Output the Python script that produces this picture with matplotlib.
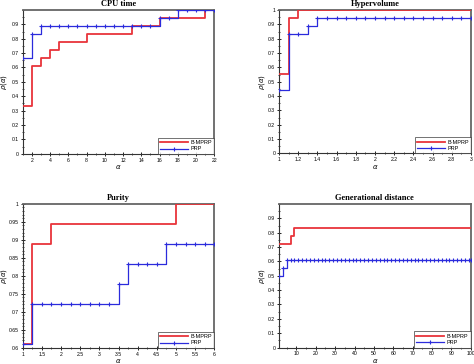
import numpy as np
import matplotlib
matplotlib.use("Agg")
import matplotlib.pyplot as plt
from matplotlib.ticker import MultipleLocator, FuncFormatter

# ---- data (breakpoints where each step starts, and the level from there) ----
cpu_grid = np.arange(1, 23, 1.0)
cpu_bmprp_x = [1, 2, 3, 4, 5, 8, 13, 16, 21]
cpu_bmprp_y = [0.333, 0.611, 0.667, 0.722, 0.778, 0.833, 0.889, 0.944, 1.0]
cpu_prp_x = [1, 2, 3, 16, 18]
cpu_prp_y = [0.667, 0.833, 0.889, 0.944, 1.0]

hv_grid = np.round(np.arange(1.0, 3.0001, 0.1), 2)
hv_bmprp_x = [1.0, 1.1, 1.2]
hv_bmprp_y = [0.556, 0.944, 1.0]
hv_prp_x = [1.0, 1.1, 1.3, 1.4]
hv_prp_y = [0.444, 0.833, 0.889, 0.944]

pur_grid = np.arange(1.0, 6.0001, 0.25)
pur_bmprp_x = [1.0, 1.25, 1.75, 5.0]
pur_bmprp_y = [0.611, 0.889, 0.944, 1.0]
pur_prp_x = [1.0, 1.25, 3.5, 3.75, 4.75]
pur_prp_y = [0.611, 0.722, 0.778, 0.833, 0.889]

gd_grid = np.append(np.arange(1, 100, 2.0), 100)
gd_bmprp_x = [1, 7, 9]
gd_bmprp_y = [0.722, 0.778, 0.833]
gd_prp_x = [1, 3, 5]
gd_prp_y = [0.5, 0.556, 0.611]

titles = ["CPU time", "Hypervolume", "Purity", "Generational distance"]
series_names = ["B-MPRP", "PRP"]

RED = "#e8343a"
BLUE = "#2b2bdc"


def levels(grid, bx, by):
    idx = np.searchsorted(np.array(bx, dtype=float) - 1e-6, grid, side="right") - 1
    idx = np.clip(idx, 0, len(by) - 1)
    return np.array(by)[idx]


fig = plt.figure(figsize=(4.74, 3.64), dpi=100)
W, H = 474, 364
boxes = [(22.7, 10, 214.3, 153.7), (279, 10, 471, 153.5),
         (22.7, 203.7, 214.3, 347.7), (279, 204, 470.7, 347.5)]
ylabel_x = [-0.07, -0.062, -0.07, -0.062]

panels = [
    (cpu_grid, cpu_bmprp_x, cpu_bmprp_y, cpu_prp_x, cpu_prp_y),
    (hv_grid, hv_bmprp_x, hv_bmprp_y, hv_prp_x, hv_prp_y),
    (pur_grid, pur_bmprp_x, pur_bmprp_y, pur_prp_x, pur_prp_y),
    (gd_grid, gd_bmprp_x, gd_bmprp_y, gd_prp_x, gd_prp_y),
]

fmt = FuncFormatter(lambda v, p: ("%g" % round(v, 3)))

for i, (box, pdata, title) in enumerate(zip(boxes, panels, titles)):
    l, t, r, b = box
    ax = fig.add_axes([l / W, (H - b) / H, (r - l) / W, (b - t) / H])
    grid, bx, by, px, py = pdata
    ax.step(grid, levels(grid, bx, by), where="post", color=RED, lw=1.3,
            label=series_names[0], zorder=3)
    ax.step(grid, levels(grid, px, py), where="post", color=BLUE, lw=0.9,
            marker="+", ms=3.5, mew=0.8, label=series_names[1], zorder=4)
    ax.set_xlim(grid[0], grid[-1])
    if i == 0:
        ax.set_ylim(0, 1.0)
        ax.set_yticks(np.arange(0, 0.95, 0.1))
        ax.set_xticks(np.arange(2, 23, 2))
        ax.xaxis.set_minor_locator(MultipleLocator(1))
        ax.yaxis.set_minor_locator(MultipleLocator(0.05))
    elif i == 1:
        ax.set_ylim(0, 1.0)
        ax.set_yticks(np.arange(0, 1.01, 0.1))
        ax.set_xticks(np.arange(1, 3.01, 0.2))
        ax.xaxis.set_minor_locator(MultipleLocator(0.1))
        ax.yaxis.set_minor_locator(MultipleLocator(0.05))
    elif i == 2:
        ax.set_ylim(0.6, 1.0)
        ax.set_yticks(np.arange(0.6, 1.001, 0.05))
        ax.set_xticks(np.arange(1, 6.01, 0.5))
        ax.xaxis.set_minor_locator(MultipleLocator(0.25))
        ax.yaxis.set_minor_locator(MultipleLocator(0.01))
    else:
        ax.set_ylim(0, 1.0)
        ax.set_yticks(np.arange(0, 0.95, 0.1))
        ax.set_xticks(np.arange(10, 101, 10))
        ax.xaxis.set_minor_locator(MultipleLocator(5))
        ax.yaxis.set_minor_locator(MultipleLocator(0.05))
    ax.xaxis.set_major_formatter(fmt)
    ax.yaxis.set_major_formatter(fmt)
    ax.tick_params(which="major", labelsize=3.7, length=2.5, width=0.6,
                   direction="inout", pad=1.5, top=False, right=False)
    ax.tick_params(which="minor", length=1.5, width=0.5, direction="inout",
                   top=False, right=False)
    for lab in ax.get_xticklabels() + ax.get_yticklabels():
        lab.set_family("Liberation Sans")
    for s in ["left", "bottom"]:
        ax.spines[s].set_color("#333333")
        ax.spines[s].set_linewidth(0.8)
    for s in ["top", "right"]:
        ax.spines[s].set_color("#666666")
        ax.spines[s].set_linewidth(1.3)
    ax.set_title(title, fontsize=6, fontweight="bold", family="Liberation Serif",
                 pad=3)
    ax.set_xlabel(r"$\alpha$", fontsize=5, labelpad=0.5)
    ax.set_ylabel(r"$\rho(\alpha)$", fontsize=5)
    ax.yaxis.set_label_coords(ylabel_x[i], 0.5)
    leg = ax.legend(loc="lower right", prop={"family": "Liberation Sans", "size": 4},
                    frameon=True, fancybox=False,
                    borderpad=0.4, handlelength=5, labelspacing=0.3,
                    borderaxespad=0.0, handletextpad=0.5)
    leg.get_frame().set_edgecolor("#333333")
    leg.get_frame().set_linewidth(0.6)

fig.savefig("out.png", dpi=100)
